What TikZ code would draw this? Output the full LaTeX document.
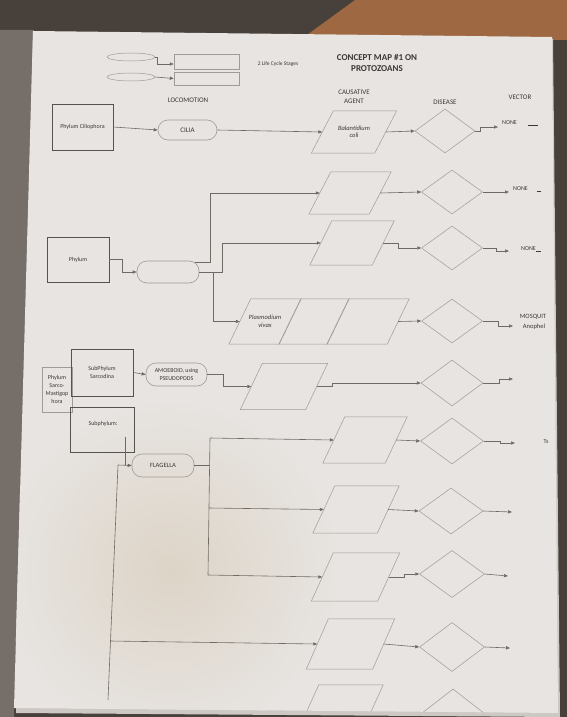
\documentclass[tikz,border=0pt]{standalone}
\usepackage{fontspec}
\setmainfont{Carlito}
\usetikzlibrary{shapes.geometric,arrows.meta,calc}
\definecolor{pagec}{RGB}{231,228,225}
\definecolor{beigec}{RGB}{221,212,199}
\definecolor{sheetc}{RGB}{205,200,196}
\definecolor{bgc}{RGB}{72,64,58}
\definecolor{woodc}{RGB}{158,104,66}
\definecolor{leftc}{RGB}{118,110,104}
\definecolor{boxc}{RGB}{88,82,78}
\definecolor{arrc}{RGB}{112,106,100}
\definecolor{palec}{RGB}{160,155,150}
\definecolor{txtc}{RGB}{62,56,52}
\tikzset{
  fs/.style={font=\fontsize{#1}{#1}\selectfont},
  txt/.style={text=txtc, align=center, inner sep=0pt},
  boxn/.style={draw=boxc, line width=0.7pt, rectangle, minimum width=#1, inner sep=0pt, txt, fs=6},
  palebox/.style={draw=palec, line width=0.5pt, rectangle, inner sep=0pt},
  pill/.style={draw=palec, line width=0.6pt, rectangle, rounded corners=10pt, minimum width=#1, inner sep=0pt, txt, fs=7},
  paran/.style={rectangle, inner sep=0pt, txt, fs=6.5},
  paraline/.style={draw=palec, line width=0.5pt},
  dia/.style={draw=palec, line width=0.5pt, diamond, minimum width=#1, inner sep=1pt},
  arr/.style={draw=arrc, line width=0.6pt, -{Triangle[length=4pt,width=3.2pt]}},
  lin/.style={draw=arrc, line width=0.6pt},
}
% parallelogram: name, x, y, side width, height, text
\newcommand{\mkpara}[6]{%
  \node[paran, minimum width=#4, minimum height=#5] (#1) at (#2,#3) {#6};
  \draw[paraline] ($(#1.south west)+(-11,0)$) -- ($(#1.north west)+(11,0)$)
    -- ($(#1.north east)+(11,0)$) -- ($(#1.south east)+(-11,0)$) -- cycle;}
\begin{document}
\begin{tikzpicture}[x=1pt,y=-1pt]
\useasboundingbox (0,0) rectangle (567,717);
% background (photo surroundings)
\fill[bgc] (0,0) rectangle (567,717);
\fill[woodc] (355,0) -- (567,0) -- (567,40) -- (300,40) -- cycle;
\fill[leftc] (0,30) -- (34,30) -- (14,717) -- (0,717) -- cycle;
\fill[sheetc] (33,33) -- (553,39) -- (560,717) -- (16,713) -- cycle;
\fill[pagec] (33,31) -- (552,37) -- (558,713) -- (14,708) -- cycle;
\begin{scope}
\clip (33,31) -- (552,37) -- (558,713) -- (14,708) -- cycle;
\shade[inner color=beigec, outer color=pagec] (170,570) ellipse (170 and 170);

% top: life cycle stages
\node[palebox, ellipse, minimum width=48, minimum height=8] (e1) at (131,57) {};
\node[palebox, ellipse, minimum width=48, minimum height=8] (e2) at (131,77) {};
\node[palebox, minimum width=65, minimum height=15] (r1) at (206.5,61.5) {};
\node[palebox, minimum width=65, minimum height=13] (r2) at (206.5,78.5) {};
\draw[arr] (e1.east) -- ++(2,0) |- ($(r1.west)+(0,2.5)$);
\draw[arr] (e2.east) -- (r2.west);
\node[txt, fs=5.5] (lcs) at (278,64) {2 Life Cycle Stages};
\node[txt, font=\fontsize{9}{11}\selectfont\bfseries] (title) at (377,62.5) {CONCEPT MAP \#1 ON\\PROTOZOANS};

% column headers
\node[txt, fs=7] (hloc) at (188,100) {LOCOMOTION};
\node[txt, font=\fontsize{7}{9}\selectfont] (hca) at (354,96.5) {CAUSATIVE\\AGENT};
\node[txt, fs=7] (hdis) at (445,102) {DISEASE};
\node[txt, fs=7] (hvec) at (520,97) {VECTOR};

% row 1: Ciliophora
\node[boxn=61, minimum height=46] (cilbox) at (82.5,127) {Phylum Ciliophora};
\node[pill=59, minimum height=20] (cilia) at (187.5,130) {CILIA};
\mkpara{p1}{354}{132}{63}{42}{\itshape Balantidium\\[1pt]\itshape coli}
\node[dia=60, minimum height=44] (d1) at (445,131) {};
\coordinate (v1) at (498,127);
\draw[arr] (cilbox.east) -- (cilia.west);
\draw[arr] (cilia.east) -- (p1.west);
\draw[arr] (p1.east) -- (d1.west);
\draw[arr] (d1.east) -- ++(5,0) |- (v1);
\node[txt, fs=6, anchor=west] (n1) at (502,123) {NONE\hspace{11pt}\rule[-0.5pt]{10pt}{0.4pt}};

% rows 2-4: Phylum
\node[boxn=62, minimum height=45] (phybox) at (78,259.5) {Phylum};
\node[pill=62, minimum height=22] (pill2) at (168,272) {};
\mkpara{p2}{350}{193}{60}{42}{}
\node[dia=61, minimum height=44] (d2) at (452,192) {};
\coordinate (v2) at (509,192);
\mkpara{p3}{352}{243}{62}{44}{}
\node[dia=61, minimum height=44] (d3) at (452,248) {};
\coordinate (v3) at (509,251);
\mkpara{p4a}{265}{321.5}{50}{45}{\itshape Plasmodium\\[1pt]\itshape vivax}
\mkpara{p4b}{314}{321.5}{48}{45}{}
\mkpara{p4c}{368}{321.5}{60}{45}{}
\node[dia=61, minimum height=44] (d4) at (452,321) {};
\coordinate (v4) at (513,326);
\draw[arr] (phybox.east) -- ++(13,0) |- (pill2.west);
\draw[arr] ($(pill2.east)+(-4,-10)$) -- ++(15,0) |- (p2.west);
\draw[arr] (pill2.east) -- ++(23,0) |- (p3.west);
\draw[arr] ($(pill2.east)+(14,0)$) |- (p4a.west);
\draw[arr] (p2.east) -- (d2.west);
\draw[arr] (d2.east) -- (v2);
\node[txt, fs=6, anchor=west] (n2) at (513,189) {NONE\hspace{9pt}\rule[-0.5pt]{4pt}{0.4pt}};
\draw[arr] (p3.east) -- ++(15,0) |- (d3.west);
\draw[arr] (d3.east) -- ++(14,0) |- (v3);
\node[txt, fs=6, anchor=west] (n3) at (521,249) {NONE\rule[-0.5pt]{5pt}{0.4pt}};
\draw[arr] (p4c.east) -- (d4.west);
\draw[arr] (d4.east) -- ++(16,0) |- (v4);
\node[txt, fs=6.5] (mosq) at (533,317) {MOSQUIT};
\node[txt, fs=6.5] (anoph) at (534,326.5) {Anophel};

% row 5: Sarcodina
\node[palebox, minimum width=30, minimum height=45, txt, font=\fontsize{6}{8}\selectfont] (phsm) at (57,389.5) {Phylum\\Sarco-\\Mastigop\\hora};
\node[boxn=62, minimum height=47, font=\fontsize{6}{8}\selectfont] (sarbox) at (102,372.5) {SubPhylum\\Sarcodina};
\node[pill=61, minimum height=23, font=\fontsize{6}{7.5}\selectfont] (amoe) at (176.5,374.5) {AMOEBOID, using\\PSEUDOPODS};
\mkpara{p5}{284}{386.5}{65}{46}{}
\node[dia=62, minimum height=46] (d5) at (452,383) {};
\coordinate (v5) at (513,379);
\draw[arr] (sarbox.east) -- (amoe.west);
\draw[arr] (amoe.east) -- ++(16,0) |- (p5.west);
\draw[arr] (p5.east) -- ++(16,0) |- (d5.west);
\draw[arr] (d5.east) -- ++(16,0) |- (v5);

% rows 6-9: Subphylum / Flagella
\node[boxn=64, minimum height=45] (subbox) at (102,429.5) {};
\node[txt, fs=6] (subtxt) at (103,424) {Subphylum:};
\node[pill=62, minimum height=23, fs=6.5] (flag) at (163,465.5) {FLAGELLA};
\coordinate (st1) at (125,437);
\coordinate (jn) at (118,465);
\coordinate (jm) at (110.5,641);
\coordinate (jb) at (108,700);
\draw[lin] (st1) -- (st1 |- jn);
\draw[lin] (jn) -- (jb);
\draw[arr] (jn) -- (flag.west);
\coordinate (fb) at (210,465.5);
\coordinate (f1) at (210,438);
\coordinate (f2) at (209,508);
\coordinate (f3) at (208,575);
\draw[lin] (flag.east) -- (fb);
\draw[lin] (f1) -- (f3);
\mkpara{p6}{365}{440}{62}{46}{}
\node[dia=63, minimum height=46] (d6) at (452,441) {};
\coordinate (v6) at (515,443);
\mkpara{p7}{356}{509.5}{64}{47}{}
\node[dia=64, minimum height=46] (d7) at (451,511) {};
\coordinate (v7) at (512,512);
\mkpara{p8}{355.5}{577}{66}{48}{}
\node[dia=65, minimum height=47] (d8) at (452,574) {};
\coordinate (v8) at (508,576);
\mkpara{p9}{350.5}{644}{66}{50}{}
\node[dia=65, minimum height=49] (d9) at (452,647) {};
\coordinate (v9) at (510,648);
\mkpara{p10}{340}{709}{64}{48}{}
\node[dia=62, minimum height=48] (d10) at (453,713) {};
\draw[arr] (f1) -- (p6.west);
\draw[arr] (f2) -- (p7.west);
\draw[arr] (f3) -- (p8.west);
\draw[arr] (jm) -- (p9.west);
\draw[arr] (p6.east) -- (d6.west);
\draw[arr] (d6.east) -- ++(17,0) |- (v6);
\node[txt, fs=6] (ts) at (546,442) {Ts};
\draw[arr] (p7.east) -- (d7.west);
\draw[arr] (d7.east) -- (v7);
\draw[arr] (p8.east) -- ++(16,0) |- (d8.west);
\draw[arr] (d8.east) -- (v8);
\draw[arr] (p9.east) -- (d9.west);
\draw[arr] (d9.east) -- (v9);
\end{scope}
\end{tikzpicture}
\end{document}
